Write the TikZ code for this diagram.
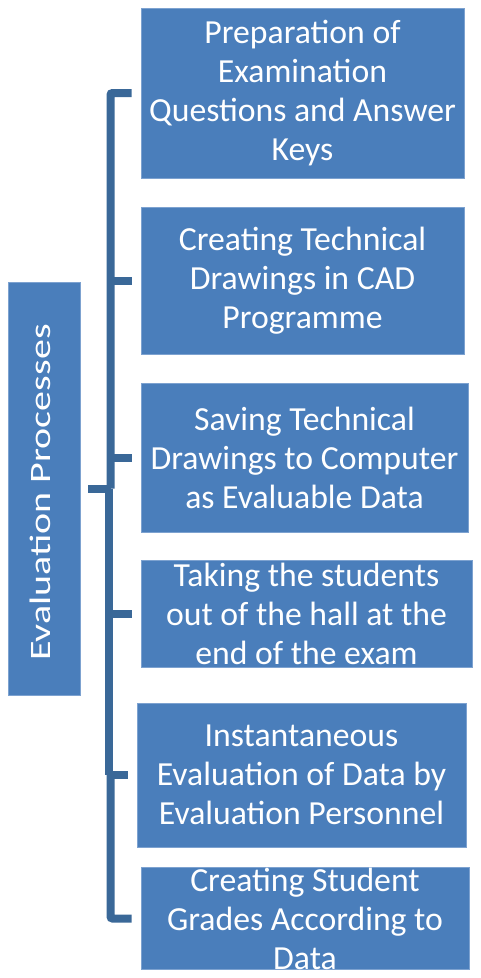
\documentclass[tikz,border=0pt]{standalone}
\usepackage{fontspec}
\setmainfont{Carlito}
\usepackage{graphicx}
\definecolor{boxfill}{RGB}{74,126,187}
\definecolor{boxedge}{RGB}{125,162,208}
\definecolor{brkcol}{RGB}{58,104,152}
\begin{document}
\begin{tikzpicture}[x=1pt,y=1pt]
\useasboundingbox (0,0) rectangle (481,-978);
\tikzset{
  box/.style={draw=boxedge, line width=0.6pt, fill=boxfill, text=white, align=center,
    inner sep=0pt, font=\fontsize{33.7}{39}\selectfont},
  brk/.style={draw=brkcol, line width=8pt},
  ptext/.style={text=white, inner sep=0pt, font=\fontsize{40}{48}\selectfont}
}
\node[box, minimum width=323pt, minimum height=170pt] (b1) at (302.5,-93)
  {Preparation of\\Examination\\Questions and Answer\\Keys};
\node[box, minimum width=323pt, minimum height=147pt] (b2) at (302.5,-280.5)
  {Creating Technical\\Drawings in CAD\\Programme};
\node[box, minimum width=327pt, minimum height=149pt] (b3) at (304.5,-457.5)
  {Saving Technical\\Drawings to Computer\\as Evaluable Data};
\node[box, minimum width=331pt, minimum height=107pt] (b4) at (306.5,-613.5)
  {Taking the students\\out of the hall at the\\end of the exam};
\node[box, minimum width=329pt, minimum height=144pt] (b5) at (301.5,-775)
  {Instantaneous\\Evaluation of Data by\\Evaluation Personnel};
\node[box, minimum width=328pt, minimum height=101pt] (b6) at (305,-918.5)
  {Creating Student\\Grades According to\\Data};
\node[box, minimum width=72pt, minimum height=413pt] (p) at (44,-488.5) {};
\node[ptext, rotate=90, anchor=base] (ptxt) at (50,-492.5)
  {\scalebox{1}[0.74]{Evaluation Processes}};
\coordinate (spine) at (110.5,0);
\coordinate (spine2) at (109,0);
% bracket
\draw[brk, rounded corners=2pt] ([xshift=-9pt]b1.west) -- (b1.west -| spine) -- (p.east -| spine);
\draw[brk] (p.east -| spine2) -- (b5.west -| spine2);
\draw[brk, rounded corners=2pt] (b5.west -| spine) -- (b6.west -| spine) -- ([xshift=-9pt]b6.west);
\draw[brk] (b2.west -| spine) -- ([xshift=-9pt]b2.west);
\draw[brk] (b3.west -| spine) -- ([xshift=-9pt]b3.west);
\draw[brk] (b4.west -| spine2) -- ([xshift=-9pt]b4.west);
\draw[brk] (b5.west -| spine2) -- ([xshift=-9pt]b5.west);
\draw[brk] ([xshift=8pt]p.east) -- (p.east -| spine);
\end{tikzpicture}
\end{document}
